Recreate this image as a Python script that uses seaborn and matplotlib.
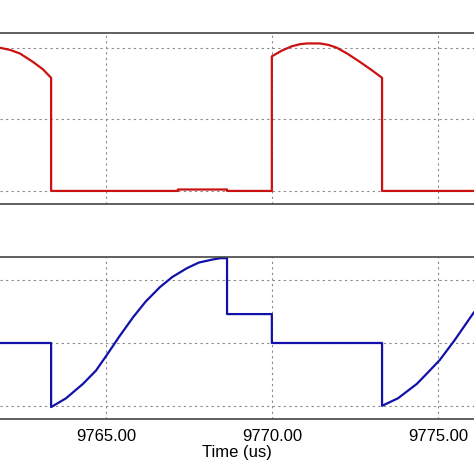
import seaborn as sns
import matplotlib
matplotlib.use("Agg")
import matplotlib.pyplot as plt

# top trace (red), time in us
t_top = [9761.81, 9762.11, 9762.41, 9762.81, 9763.10, 9763.35, 9763.35, 9767.17, 9767.17, 9768.65, 9768.65,
         9770.00, 9770.00, 9770.30, 9770.60, 9770.85, 9771.06, 9771.45, 9771.70, 9771.96, 9772.30,
         9772.66, 9773.00, 9773.32, 9773.32, 9776.09]
v_top = [1.00, 0.985, 0.96, 0.90, 0.85, 0.79, 0.00, 0.00, 0.01, 0.01, 0.00,
         0.00, 0.94, 0.98, 1.01, 1.025, 1.03, 1.03, 1.02, 1.00, 0.955,
         0.90, 0.845, 0.79, 0.00, 0.00]

# bottom trace (blue)
t_bot = [9761.81, 9763.35, 9763.35, 9763.80, 9764.31, 9764.70, 9765.03, 9765.40, 9765.82,
         9766.20, 9766.63, 9767.00, 9767.44, 9767.80, 9768.23, 9768.45,
         9768.65, 9768.65, 9770.00, 9770.00, 9773.32, 9773.32, 9773.80, 9774.37, 9774.70,
         9775.06, 9775.50, 9776.09]
v_bot = [0.00, 0.00, -1.02, -0.88, -0.65, -0.44, -0.19, 0.10, 0.41,
         0.66, 0.89, 1.05, 1.19, 1.28, 1.33, 1.35,
         1.35, 0.46, 0.46, 0.00, 0.00, -1.00, -0.88, -0.65, -0.47,
         -0.27, 0.04, 0.49]

xticks = [9765.00, 9770.00, 9775.00]
xlim = (9761.81, 9776.09)

sns.set_style("white")
plt.rcParams["font.family"] = ["Liberation Sans", "DejaVu Sans"]
fig = plt.figure(figsize=(4.74, 4.74), dpi=100)
ax1 = fig.add_axes([0.0, 0.570, 1.0, 0.361])
ax2 = fig.add_axes([0.0, 0.116, 1.0, 0.342])

sns.lineplot(x=t_top, y=v_top, ax=ax1, color="#cc1111", lw=1.6, sort=False, estimator=None)
sns.lineplot(x=t_bot, y=v_bot, ax=ax2, color="#1111aa", lw=1.6, sort=False, estimator=None)

ax1.set_ylim(-0.09, 1.105)
ax1.set_yticks([0, 0.5, 1])
ax2.set_ylim(-1.21, 1.37)
ax2.set_yticks([-1, 0, 1])

for ax in (ax1, ax2):
    ax.set_xlim(*xlim)
    ax.set_xticks(xticks)
    ax.grid(True, color="#888888", linestyle=(0, (2, 3)), linewidth=0.8)
    ax.tick_params(axis="y", left=False, labelleft=False)
    ax.tick_params(axis="x", bottom=False, colors="black")
    for s in ("left", "right"):
        ax.spines[s].set_visible(False)
    for s in ("top", "bottom"):
        ax.spines[s].set_color("#444444")
        ax.spines[s].set_linewidth(1.2)

ax1.set_xticklabels([])
ax2.set_xticklabels([f"{v:.2f}" for v in xticks], fontsize=12)
ax2.set_xlabel("Time (us)", fontsize=12, labelpad=1, color="black")

fig.savefig("out.png", dpi=100)
